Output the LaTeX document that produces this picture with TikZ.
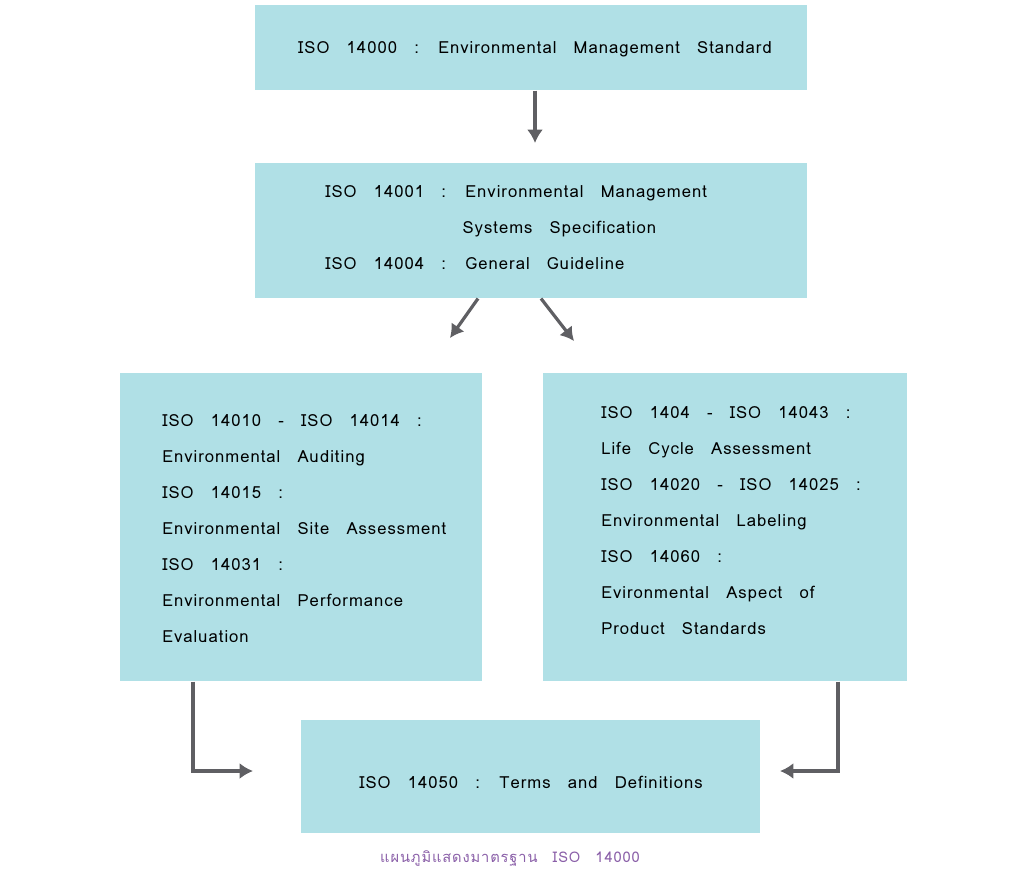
\documentclass[tikz,border=0pt]{standalone}
\usepackage{fontspec}
\setmainfont[Script=Thai,LetterSpace=6,WordSpace=2.6]{Loma}
\usetikzlibrary{positioning,arrows.meta}
\definecolor{boxcyan}{HTML}{B0E0E6}
\definecolor{arrowgrey}{HTML}{5F5F63}
\definecolor{captionpurple}{HTML}{8A5FA8}
\begin{document}
\begin{tikzpicture}[x=0.75pt,y=-0.75pt]
\tikzstyle{box}=[fill=boxcyan,draw=none,inner sep=0pt,anchor=north west]
\tikzstyle{txt}=[inner sep=0pt,font=\fontsize{12.5}{27}\selectfont]
\tikzstyle{arr}=[draw=arrowgrey,line width=2.4pt,-{Latex[length=10pt,width=12pt]}]
\useasboundingbox (0,0) rectangle (1024,882);
% boxes
\node [box,minimum width=552*0.75pt,minimum height=85*0.75pt] (top) at (255,5) {};
\node [box,minimum width=552*0.75pt,minimum height=135*0.75pt] (mid) at (255,163) {};
\node [box,minimum width=362*0.75pt,minimum height=308*0.75pt] (left) at (120,373) {};
\node [box,minimum width=364*0.75pt,minimum height=308*0.75pt] (right) at (543,373) {};
\node [box,minimum width=459*0.75pt,minimum height=113*0.75pt] (bottom) at (301,720) {};
% texts
\node [txt] (toptxt) at (535,49) {ISO 14000 : Environmental Management Standard};
\node [txt,align=left,anchor=north west] (midtxt) at (325,185) {ISO 14001 : Environmental Management\\
\hspace*{103pt}Systems Specification\\ISO 14004 : General Guideline};
\node [txt,align=left,anchor=north west] (lefttxt) at (162,414) {ISO 14010 - ISO 14014 :\\Environmental Auditing\\ISO 14015 :\\
Environmental Site Assessment\\ISO 14031 :\\Environmental Performance\\Evaluation};
\node [txt,align=left,anchor=north west] (righttxt) at (601,406) {ISO 1404 - ISO 14043 :\\Life Cycle Assessment\\ISO 14020 - ISO 14025 :\\
Environmental Labeling\\ISO 14060 :\\Evironmental Aspect of\\Product Standards};
\node [txt] (bottomtxt) at (531,782) {ISO 14050 : Terms and Definitions};
\node [txt,text=captionpurple,font=\fontsize{11}{14}\selectfont] (caption) at (510,859) {แผนภูมิแสดงมาตรฐาน ISO 14000};
% connectors
\coordinate (a1) at (535,143);
\coordinate (a2) at (450,338);
\coordinate (a3) at (574,341);
\coordinate (a4) at (253,771);
\coordinate (a5) at (780,771);
\draw [arr] (top.south -| a1) -- (a1);
\draw [arr] (mid.south -| 478,0) -- (a2);
\draw [arr] (mid.south -| 541,0) -- (a3);
\draw [arr] (left.south -| 193,0) |- (a4);
\draw [arr] (right.south -| 838,0) |- (a5);
\end{tikzpicture}
\end{document}
